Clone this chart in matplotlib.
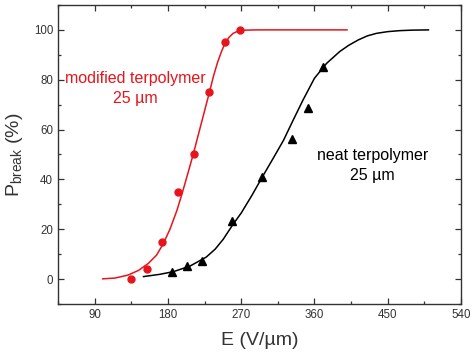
import matplotlib
matplotlib.use('Agg')
import matplotlib.pyplot as plt
from matplotlib.ticker import MultipleLocator

plt.rcParams['font.family'] = ['Liberation Sans', 'DejaVu Sans']

### data ###
# measured points
E_mod = [135, 154, 173, 192, 212, 231, 250, 269]
P_mod = [0, 4, 15, 35, 50, 75, 95, 100]
E_neat = [185, 203, 222, 259, 296, 333, 352, 370]
P_neat = [2.7, 5.2, 7.4, 23.3, 41, 56.4, 68.7, 85.1]

# fitted curves
E_fit_mod = [100, 115, 131, 144, 156, 166, 174, 182.5, 191, 198, 205, 211, 221,
             231, 236, 241, 246, 250, 255, 260, 266, 275, 290, 400]
P_fit_mod = [0.1, 0.4, 1.6, 3.5, 6.3, 9.6, 14.0, 20.0, 27.5, 35.0, 43.0, 50.0, 62.5,
             75.0, 81.5, 87.0, 91.5, 94.5, 97.0, 98.6, 99.5, 99.9, 100, 100]
E_fit_neat = [150, 170, 187, 207, 227, 238, 248, 259, 270, 283, 296, 309, 322, 334,
              346, 360, 375, 391, 402, 414, 425, 436, 450, 465, 480, 500]
P_fit_neat = [1.0, 1.9, 3.0, 5.2, 8.8, 12.0, 16.0, 21.5, 26.5, 33.5, 41.0, 48.3,
              55.7, 63.9, 71.9, 80.6, 86.6, 91.3, 93.8, 96.0, 97.6, 98.6, 99.3,
              99.7, 99.9, 100]

red = '#e8141b'
dark = '#333333'

fig = plt.figure(figsize=(4.74, 3.55), dpi=100)
ax = fig.add_axes([0.1224, 0.1437, 0.8502, 0.8423])

ax.plot(E_fit_mod, P_fit_mod, color=red, lw=1.1)
ax.plot(E_fit_neat, P_fit_neat, color='black', lw=1.1)
ax.plot(E_mod, P_mod, 'o', color=red, ms=5, mec=red)
ax.plot(E_neat, P_neat, '^', color='black', ms=5.2)

ax.text(140, 76.5, 'modified terpolymer\n25 µm', color=red, fontsize=11.5,
        ha='center', va='center', linespacing=1.4)
ax.text(431, 45.7, 'neat terpolymer\n25 µm', color='black', fontsize=11.5,
        ha='center', va='center', linespacing=1.4)

ax.set_xlim(45, 540)
ax.set_ylim(-10, 110)
ax.xaxis.set_minor_locator(MultipleLocator(45))
ax.yaxis.set_minor_locator(MultipleLocator(10))
ax.set_xticks([90, 180, 270, 360, 450, 540])
ax.set_yticks([0, 20, 40, 60, 80, 100])

ax.tick_params(which='both', direction='in', top=True, right=True,
               color=dark, labelcolor=dark, labelsize=8.3)
ax.tick_params(which='major', length=4.5, width=0.9)
ax.tick_params(which='minor', length=2.5, width=0.9)
for s in ax.spines.values():
    s.set_color(dark)
    s.set_linewidth(1.0)

ax.set_xlabel('E (V/µm)', fontsize=14, color=dark, labelpad=8)
ax.set_ylabel(r'P$_{\mathregular{break}}$ (%)', fontsize=14, color=dark, labelpad=6)

fig.savefig('out.png', dpi=100)
